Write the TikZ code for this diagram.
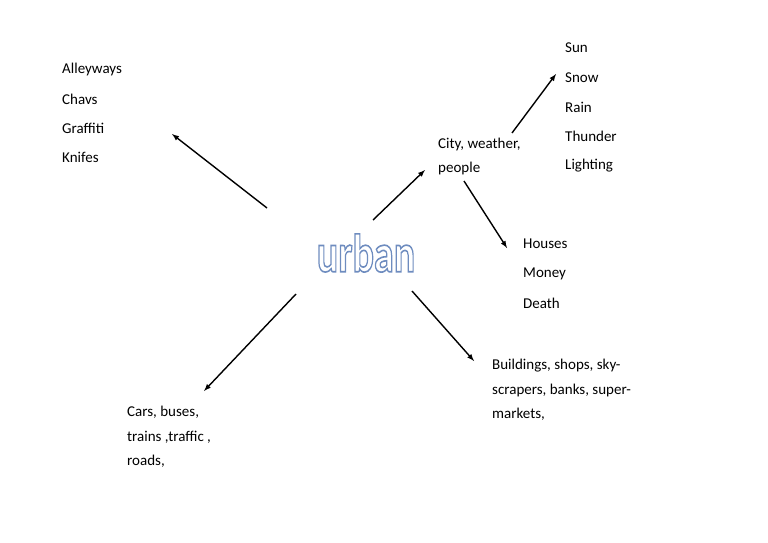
\documentclass[tikz,border=0pt]{standalone}
\usepackage{fontspec}
\setmainfont{Carlito}
\begin{document}
\begin{tikzpicture}[x=1pt,y=-1pt,
  lbl/.style={anchor=west,inner sep=0pt,font=\fontsize{15}{17}\selectfont},
  arr/.style={-latex,line width=1.4pt}]
\useasboundingbox (0,0) rectangle (768,543);
\foreach \t [count=\i] in {Alleyways,Chavs,Graffiti,Knifes}
  \node[lbl] (l\i) at (62,{70+29*(\i-1)}) {\t};
\foreach \t [count=\i] in {Sun,Snow,Rain,Thunder,Lighting}
  \node[lbl] (s\i) at (565,{48+29.5*(\i-1)}) {\t};
\node[lbl] (c1) at (438,145) {City, weather,};
\node[lbl] (c2) at (438,168) {people};
\foreach \t [count=\i] in {Houses,Money,Death}
  \node[lbl] (h\i) at (523,{244+29.5*(\i-1)}) {\t};
\node[lbl] (b1) at (492,366) {Buildings, shops, sky-};
\node[lbl] (b2) at (492,390) {scrapers, banks, super-};
\node[lbl] (b3) at (492,414) {markets,};
\node[lbl] (r1) at (127,412) {Cars, buses,};
\node[lbl] (r2) at (127,437) {trains ,traffic ,};
\node[lbl] (r3) at (127,461) {roads,};
\node[text=white,inner sep=0pt,yscale=1.35,font=\fontsize{40}{44}\bfseries\selectfont] (u) at (366,253)
  {\special{pdf:literal 0.43 0.55 0.75 RG 1.2 w 2 Tr}urban\special{pdf:literal 0 Tr}};
\coordinate (a1s) at (267,208); \coordinate (a1e) at (172,134);
\coordinate (a2s) at (373,220); \coordinate (a2e) at (425,170);
\coordinate (a3s) at (512,133); \coordinate (a3e) at (556,74);
\coordinate (a4s) at (464,181); \coordinate (a4e) at (507,248);
\coordinate (a5s) at (412,291); \coordinate (a5e) at (474,361);
\coordinate (a6s) at (296,294); \coordinate (a6e) at (204,391);
\foreach \i in {1,...,6} \draw[arr] (a\i s) -- (a\i e);
\end{tikzpicture}
\end{document}
